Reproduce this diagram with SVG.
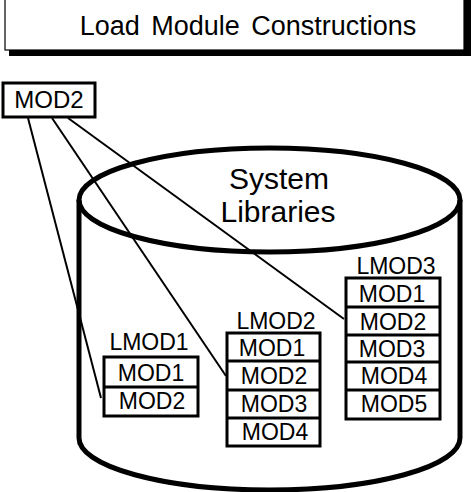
<svg xmlns="http://www.w3.org/2000/svg" width="474" height="492" viewBox="0 0 474 492">
<style>
text{font-family:"Liberation Sans",Arial,sans-serif;fill:#000;text-anchor:middle}
.t{font-size:23px}
.box{fill:#fff;stroke:#000;stroke-width:3}
.div{stroke:#000;stroke-width:3}
.cyl{fill:none;stroke:#000;stroke-width:5}
.con{stroke:#000;stroke-width:2;fill:none}
</style>
<rect width="474" height="492" fill="#fff"/>
<g id="title">
<rect x="9" y="-2" width="462" height="58" fill="#000"/>
<rect x="5" y="-6" width="459" height="56" fill="#fff" stroke="#000" stroke-width="1.2"/>
<text x="248" y="35" style="font-size:27px;word-spacing:4px">Load Module Constructions</text>
</g>
<g id="cylinder">
<rect x="79" y="200" width="381" height="238" fill="#fff"/>
<path class="cyl" d="M79,200 L79,438 A190.5,52 0 0 0 460,438 L460,200"/>
<ellipse class="cyl" cx="269.5" cy="200" rx="190.5" ry="52" fill="#fff"/>
<text x="279" y="189" style="font-size:30px">System</text>
<text x="278" y="222" style="font-size:30px">Libraries</text>
</g>
<g id="connectors">
<line class="con" x1="28" y1="118" x2="101" y2="398"/>
<line class="con" x1="52" y1="118" x2="226" y2="376"/>
<line class="con" x1="68" y1="118" x2="344" y2="319"/>
</g>
<g id="mod2">
<rect class="box" x="3" y="83" width="92" height="34"/>
<text class="t" x="49" y="108" style="font-size:24px">MOD2</text>
</g>
<g id="lmod1">
<text class="t" x="149" y="350">LMOD1</text>
<rect class="box" x="104" y="357" width="94" height="59"/>
<line class="div" x1="104" y1="387" x2="198" y2="387"/>
<text class="t" x="151" y="381">MOD1</text>
<text class="t" x="152" y="409">MOD2</text>
</g>
<g id="lmod2">
<text class="t" x="276" y="329">LMOD2</text>
<rect class="box" x="227" y="333" width="93" height="113"/>
<line class="div" x1="227" y1="361" x2="320" y2="361"/>
<line class="div" x1="227" y1="390" x2="320" y2="390"/>
<line class="div" x1="227" y1="418" x2="320" y2="418"/>
<text class="t" x="272" y="356">MOD1</text>
<text class="t" x="274" y="384">MOD2</text>
<text class="t" x="274" y="412">MOD3</text>
<text class="t" x="275" y="440">MOD4</text>
</g>
<g id="lmod3">
<text class="t" x="396" y="274">LMOD3</text>
<rect class="box" x="346" y="278" width="94" height="141"/>
<line class="div" x1="346" y1="307" x2="440" y2="307"/>
<line class="div" x1="346" y1="335" x2="440" y2="335"/>
<line class="div" x1="346" y1="362" x2="440" y2="362"/>
<line class="div" x1="346" y1="390" x2="440" y2="390"/>
<text class="t" x="392" y="302">MOD1</text>
<text class="t" x="393" y="330">MOD2</text>
<text class="t" x="392" y="357">MOD3</text>
<text class="t" x="394" y="384">MOD4</text>
<text class="t" x="394" y="412">MOD5</text>
</g>
</svg>
